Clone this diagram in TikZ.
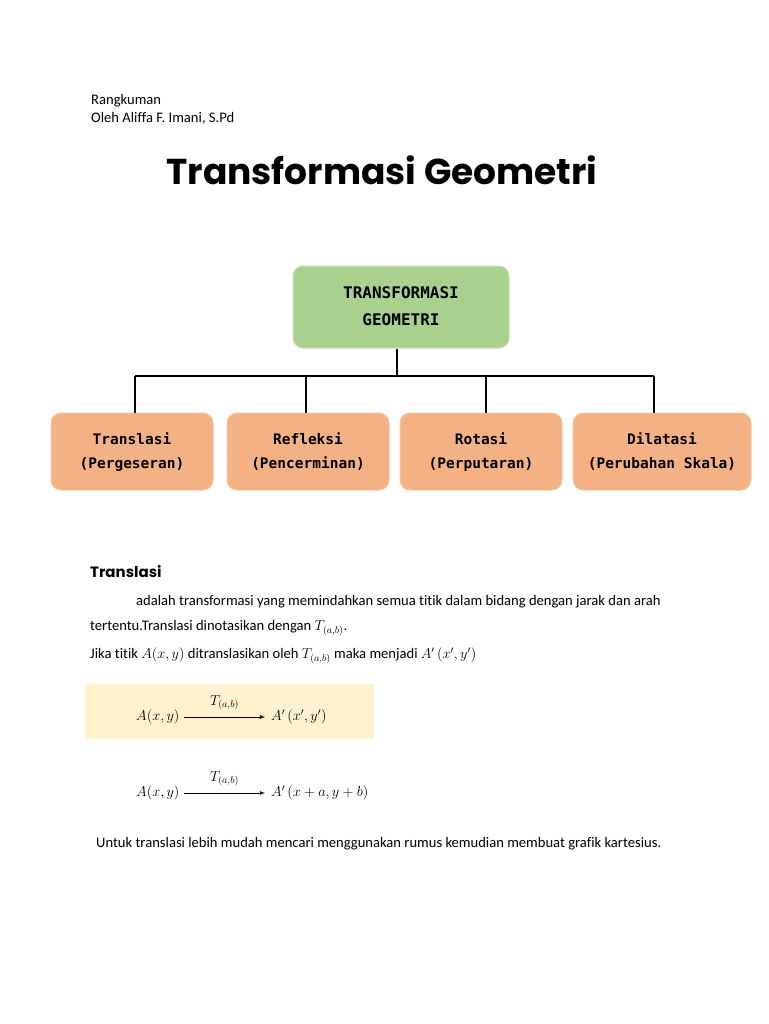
\documentclass[tikz,border=0pt]{standalone}
\usepackage{fontspec}
\setmainfont{Carlito}[Ligatures=NoCommon]
\newfontfamily\titlefont{Poppins}
\newfontfamily\boxfont{DejaVu Sans Mono}
\definecolor{gfill}{RGB}{169,209,142}
\definecolor{gline}{RGB}{200,225,180}
\definecolor{ofill}{RGB}{244,177,131}
\definecolor{oline}{RGB}{240,200,170}
\definecolor{yfill}{RGB}{255,242,204}
\newcommand{\twol}[2]{\strut#1\\\strut#2}
\begin{document}
\begin{tikzpicture}[x=1pt,y=-1pt,
  topbox/.style={draw=gline, fill=gfill, rounded corners=10pt, minimum width=216pt, minimum height=82pt, align=center, font=\boxfont\bfseries\fontsize{16}{27}\selectfont, line width=1pt},
  subbox/.style={draw=oline, fill=ofill, rounded corners=10pt, minimum height=77pt, align=center, font=\boxfont\bfseries\fontsize{14.5}{24}\selectfont, line width=1pt},
  conn/.style={line width=2.2pt},
  body/.style={anchor=west, font=\fontsize{14.6}{17}\selectfont, inner sep=0pt},
  lab/.style={midway, above=3pt, font=\fontsize{14.6}{17}\selectfont}]
\useasboundingbox (0,0) rectangle (768,1024);
\fill[white] (0,0) rectangle (768,1024);
\node[body] (r1) at (91,101) {Rangkuman};
\node[body] (r2) at (91,118) {Oleh Aliffa F. Imani, S.Pd};
\node[font=\titlefont\bfseries\fontsize{36}{40}\selectfont] (title) at (382,170) {Transformasi Geometri};
\node[topbox] (top) at (401,307) {\twol{TRANSFORMASI}{GEOMETRI}};
\node[subbox, minimum width=162pt] (b1) at (132,451.5) {\twol{Translasi}{(Pergeseran)}};
\node[subbox, minimum width=162pt] (b2) at (308,451.5) {\twol{Refleksi}{(Pencerminan)}};
\node[subbox, minimum width=162pt] (b3) at (481,451.5) {\twol{Rotasi}{(Perputaran)}};
\node[subbox, minimum width=178pt] (b4) at (662,451.5) {\twol{Dilatasi}{(Perubahan Skala)}};
\coordinate (j) at (397,376);
\draw[conn] (top.south -| j) -- (j);
\draw[conn] (135,376) -- (654,376);
\draw[conn] (135,376) -- (b1.north -| 135,0);
\draw[conn] (306,376) -- (b2.north -| 306,0);
\draw[conn] (486,376) -- (b3.north -| 486,0);
\draw[conn] (654,376) -- (b4.north -| 654,0);
\node[body, font=\titlefont\bfseries\fontsize{15}{17}\selectfont] (h) at (90,572) {Translasi};
\node[body] (p1) at (136,602) {adalah transformasi yang memindahkan semua titik dalam bidang dengan jarak dan arah};
\node[body] (p2) at (90,628) {tertentu.Translasi dinotasikan dengan $T_{(a,b)}$.};
\node[body] (p3) at (90,656) {Jika titik $A(x,y)$ ditranslasikan oleh $T_{(a,b)}$ maka menjadi $A'\,(x',y')$};
\fill[yfill] (85,684) rectangle (374,739);
\node[body] (a1) at (136,717) {$A(x,y)$};
\node[body] (a2) at (271,717) {$A'\,(x',y')$};
\draw[-latex, thick] (184,717) -- (265,717) node[lab] {$T_{(a,b)}$};
\node[body] (c1) at (136,793) {$A(x,y)$};
\node[body] (c2) at (271,793) {$A'\,(x+a,y+b)$};
\draw[-latex, thick] (184,793) -- (265,793) node[lab] {$T_{(a,b)}$};
\node[body] (last) at (96,844) {Untuk translasi lebih mudah mencari menggunakan rumus kemudian membuat grafik kartesius.};
\end{tikzpicture}
\end{document}
